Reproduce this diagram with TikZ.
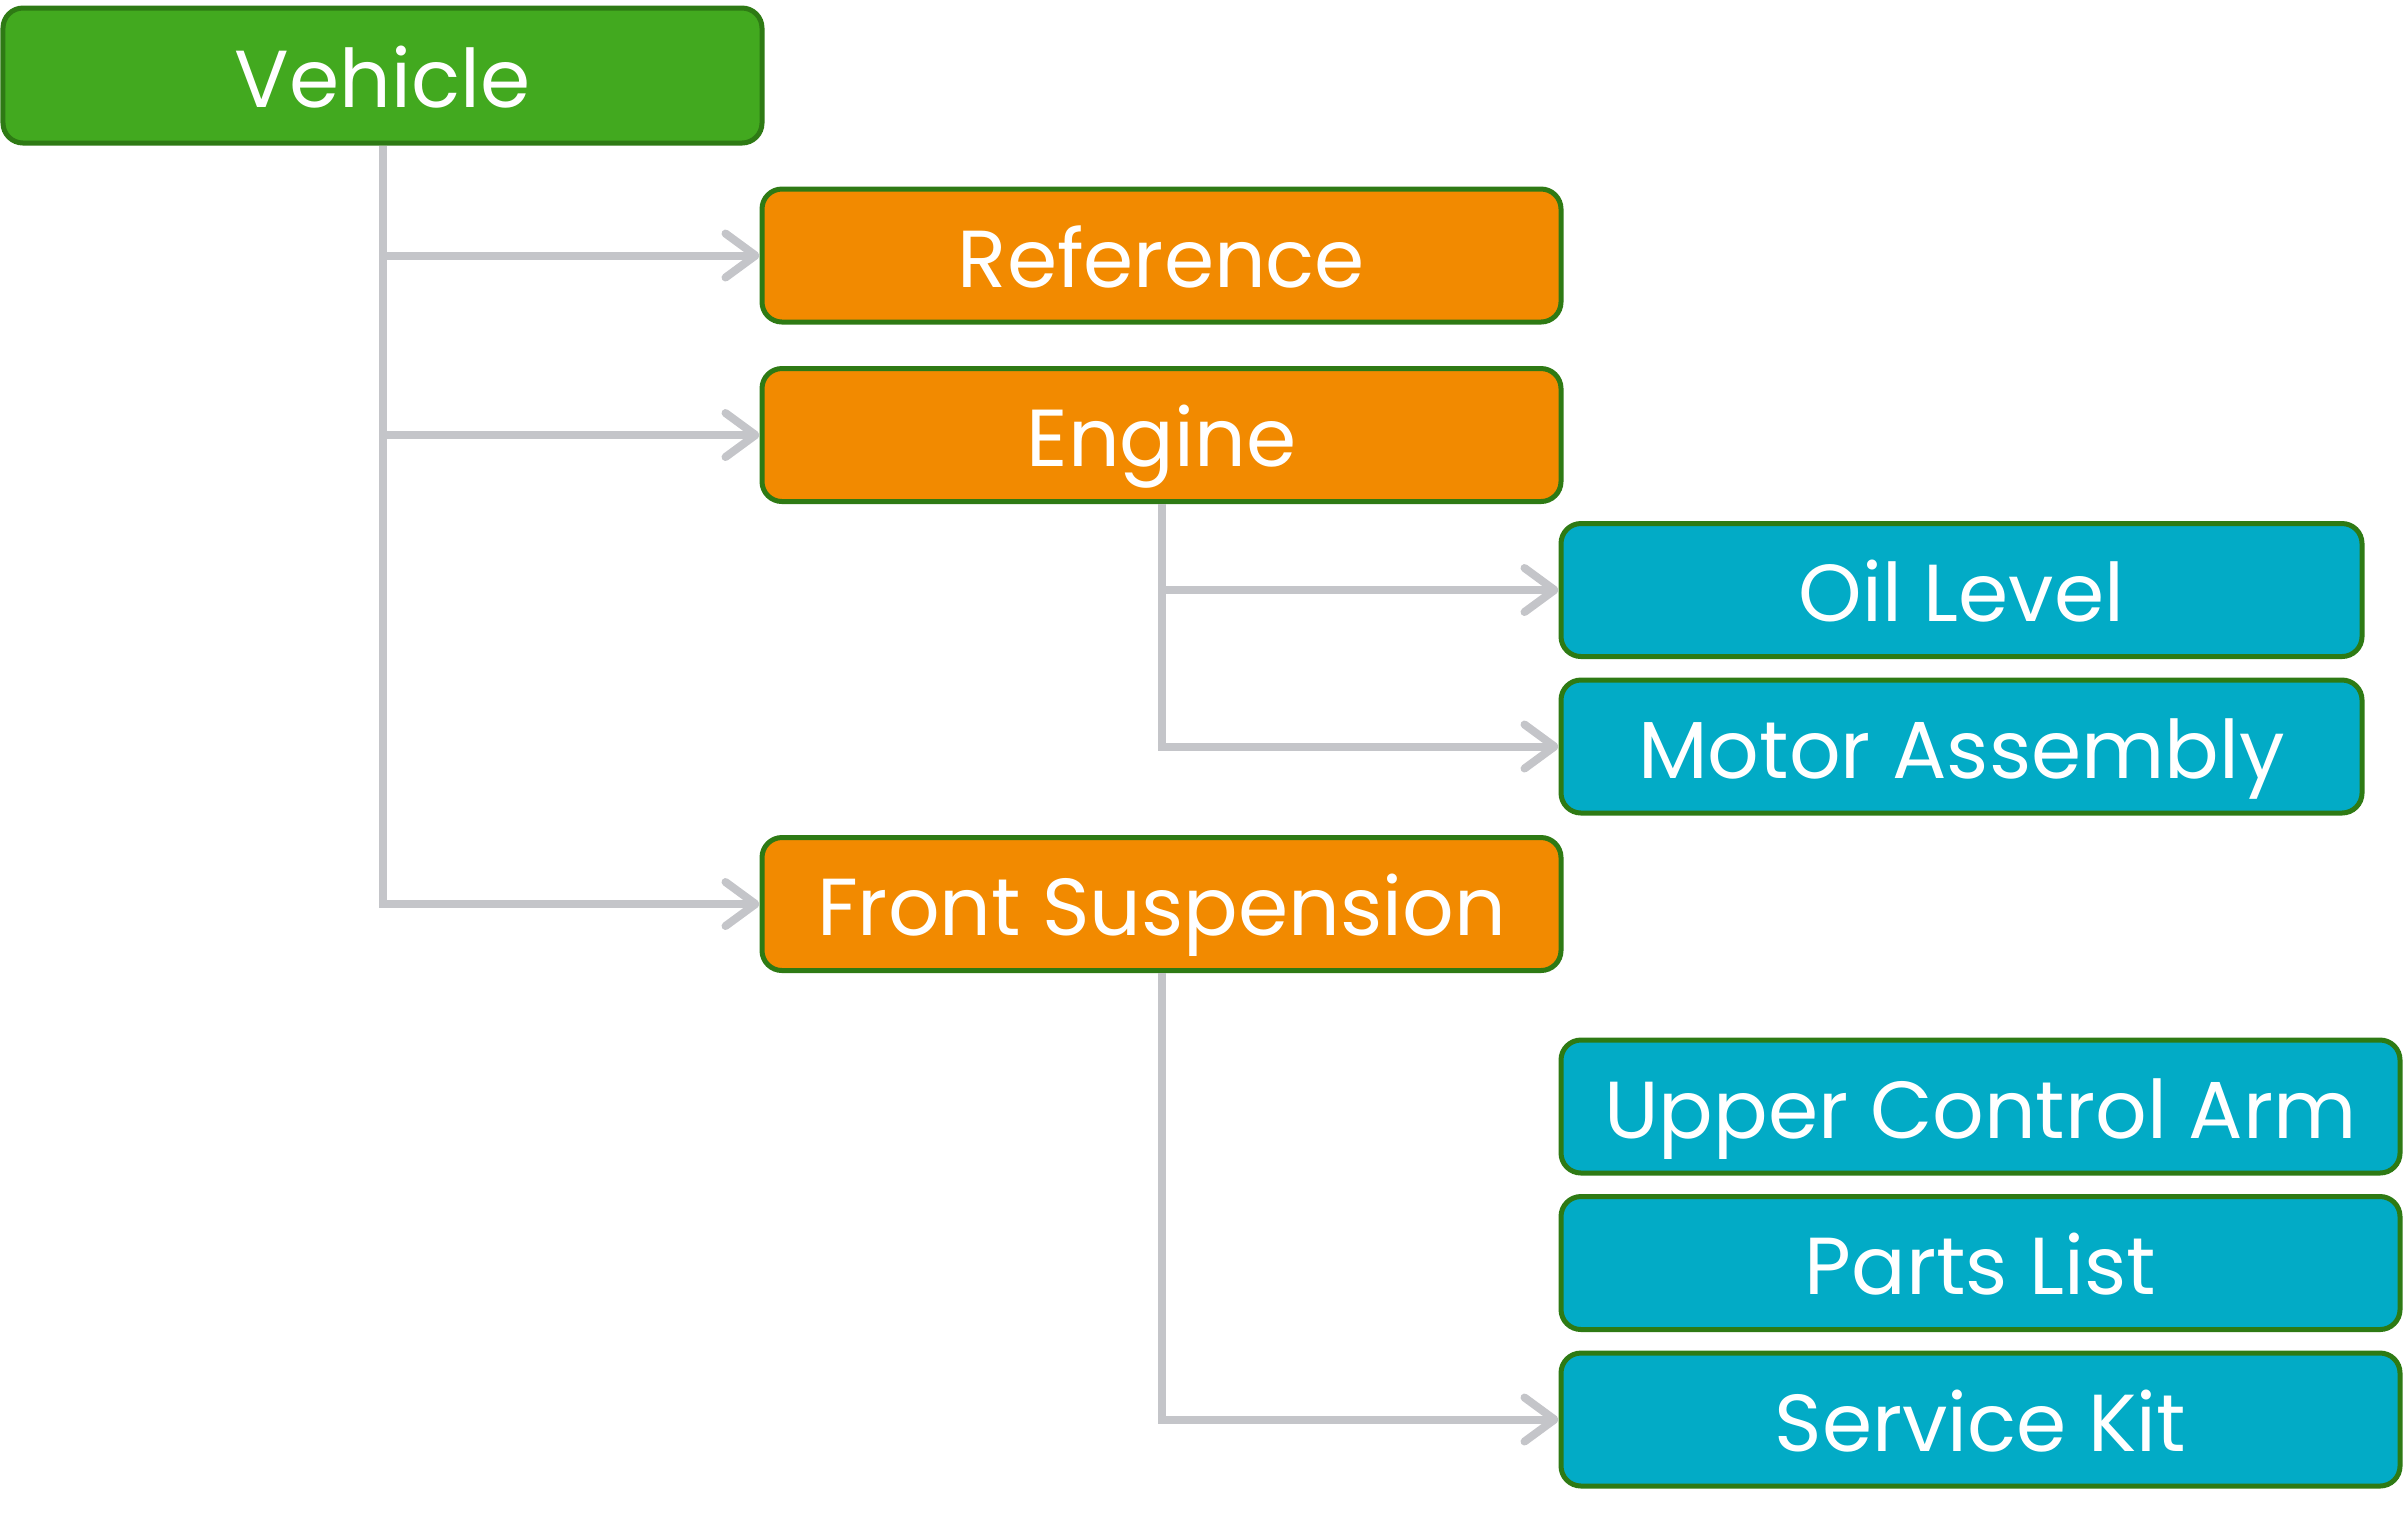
\documentclass[tikz,border=0pt]{standalone}
\usepackage{fontspec}
\setmainfont{Poppins}
\usetikzlibrary{arrows.meta,calc}
\definecolor{LeafGreen}{HTML}{42A91F}
\definecolor{DarkGreen}{HTML}{2E7A14}
\definecolor{Tangerine}{HTML}{F28A00}
\definecolor{Teal}{HTML}{02ABC6}
\definecolor{LineGray}{HTML}{C4C5C9}

\begin{document}
\begin{tikzpicture}[
  box/.style  = {draw=DarkGreen, line width=0.05cm, rounded corners=0.2cm,
                 minimum height=1.33cm, text=white,
                 text height=18pt, text depth=0pt,
                 font=\fontsize{23}{27}\selectfont, text centered},
  root/.style = {box, fill=LeafGreen, minimum width=7.59cm, minimum height=1.35cm},
  mid/.style  = {box, fill=Tangerine, minimum width=7.99cm},
  leaf/.style = {box, fill=Teal, minimum width=8.01cm},
  conn/.style = {-{Straight Barb[length=0.3cm, width=0.44cm, line width=0.08cm,
                 line cap=round, line join=round]},
                 line width=0.08cm, LineGray}
]
  \useasboundingbox (0,0) rectangle (24.05,-15.20);

  \node[root] (veh) at (3.825, -0.755) {Vehicle};

  \node[mid] (ref) at (11.615, -2.555) {Reference};
  \node[mid] (eng) at (11.615, -4.350) {Engine};
  \node[mid] (fs)  at (11.615, -9.040) {Front Suspension};

  \node[leaf] (oil)  at (19.615, -5.900) {Oil Level};
  \node[leaf] (mot)  at (19.615, -7.465) {Motor Assembly};
  \node[leaf, minimum width=8.39cm] (uca) at (19.805, -11.065) {Upper Control Arm};
  \node[leaf, minimum width=8.39cm] (pl)  at (19.805, -12.630) {Parts List};
  \node[leaf, minimum width=8.39cm] (sk)  at (19.805, -14.195) {Service Kit};

  % vehicle trunk
  \draw[conn] (veh.south) |- (fs.west);
  \foreach \n in {ref,eng}{
    \draw[conn] (veh.south |- \n.west) -- (\n.west);
  }

  % engine trunk
  \draw[conn] (eng.south) |- (mot.west);
  \draw[conn] (eng.south |- oil.west) -- (oil.west);

  % suspension trunk
  \draw[conn] (fs.south) |- (sk.west);
\end{tikzpicture}
\end{document}
